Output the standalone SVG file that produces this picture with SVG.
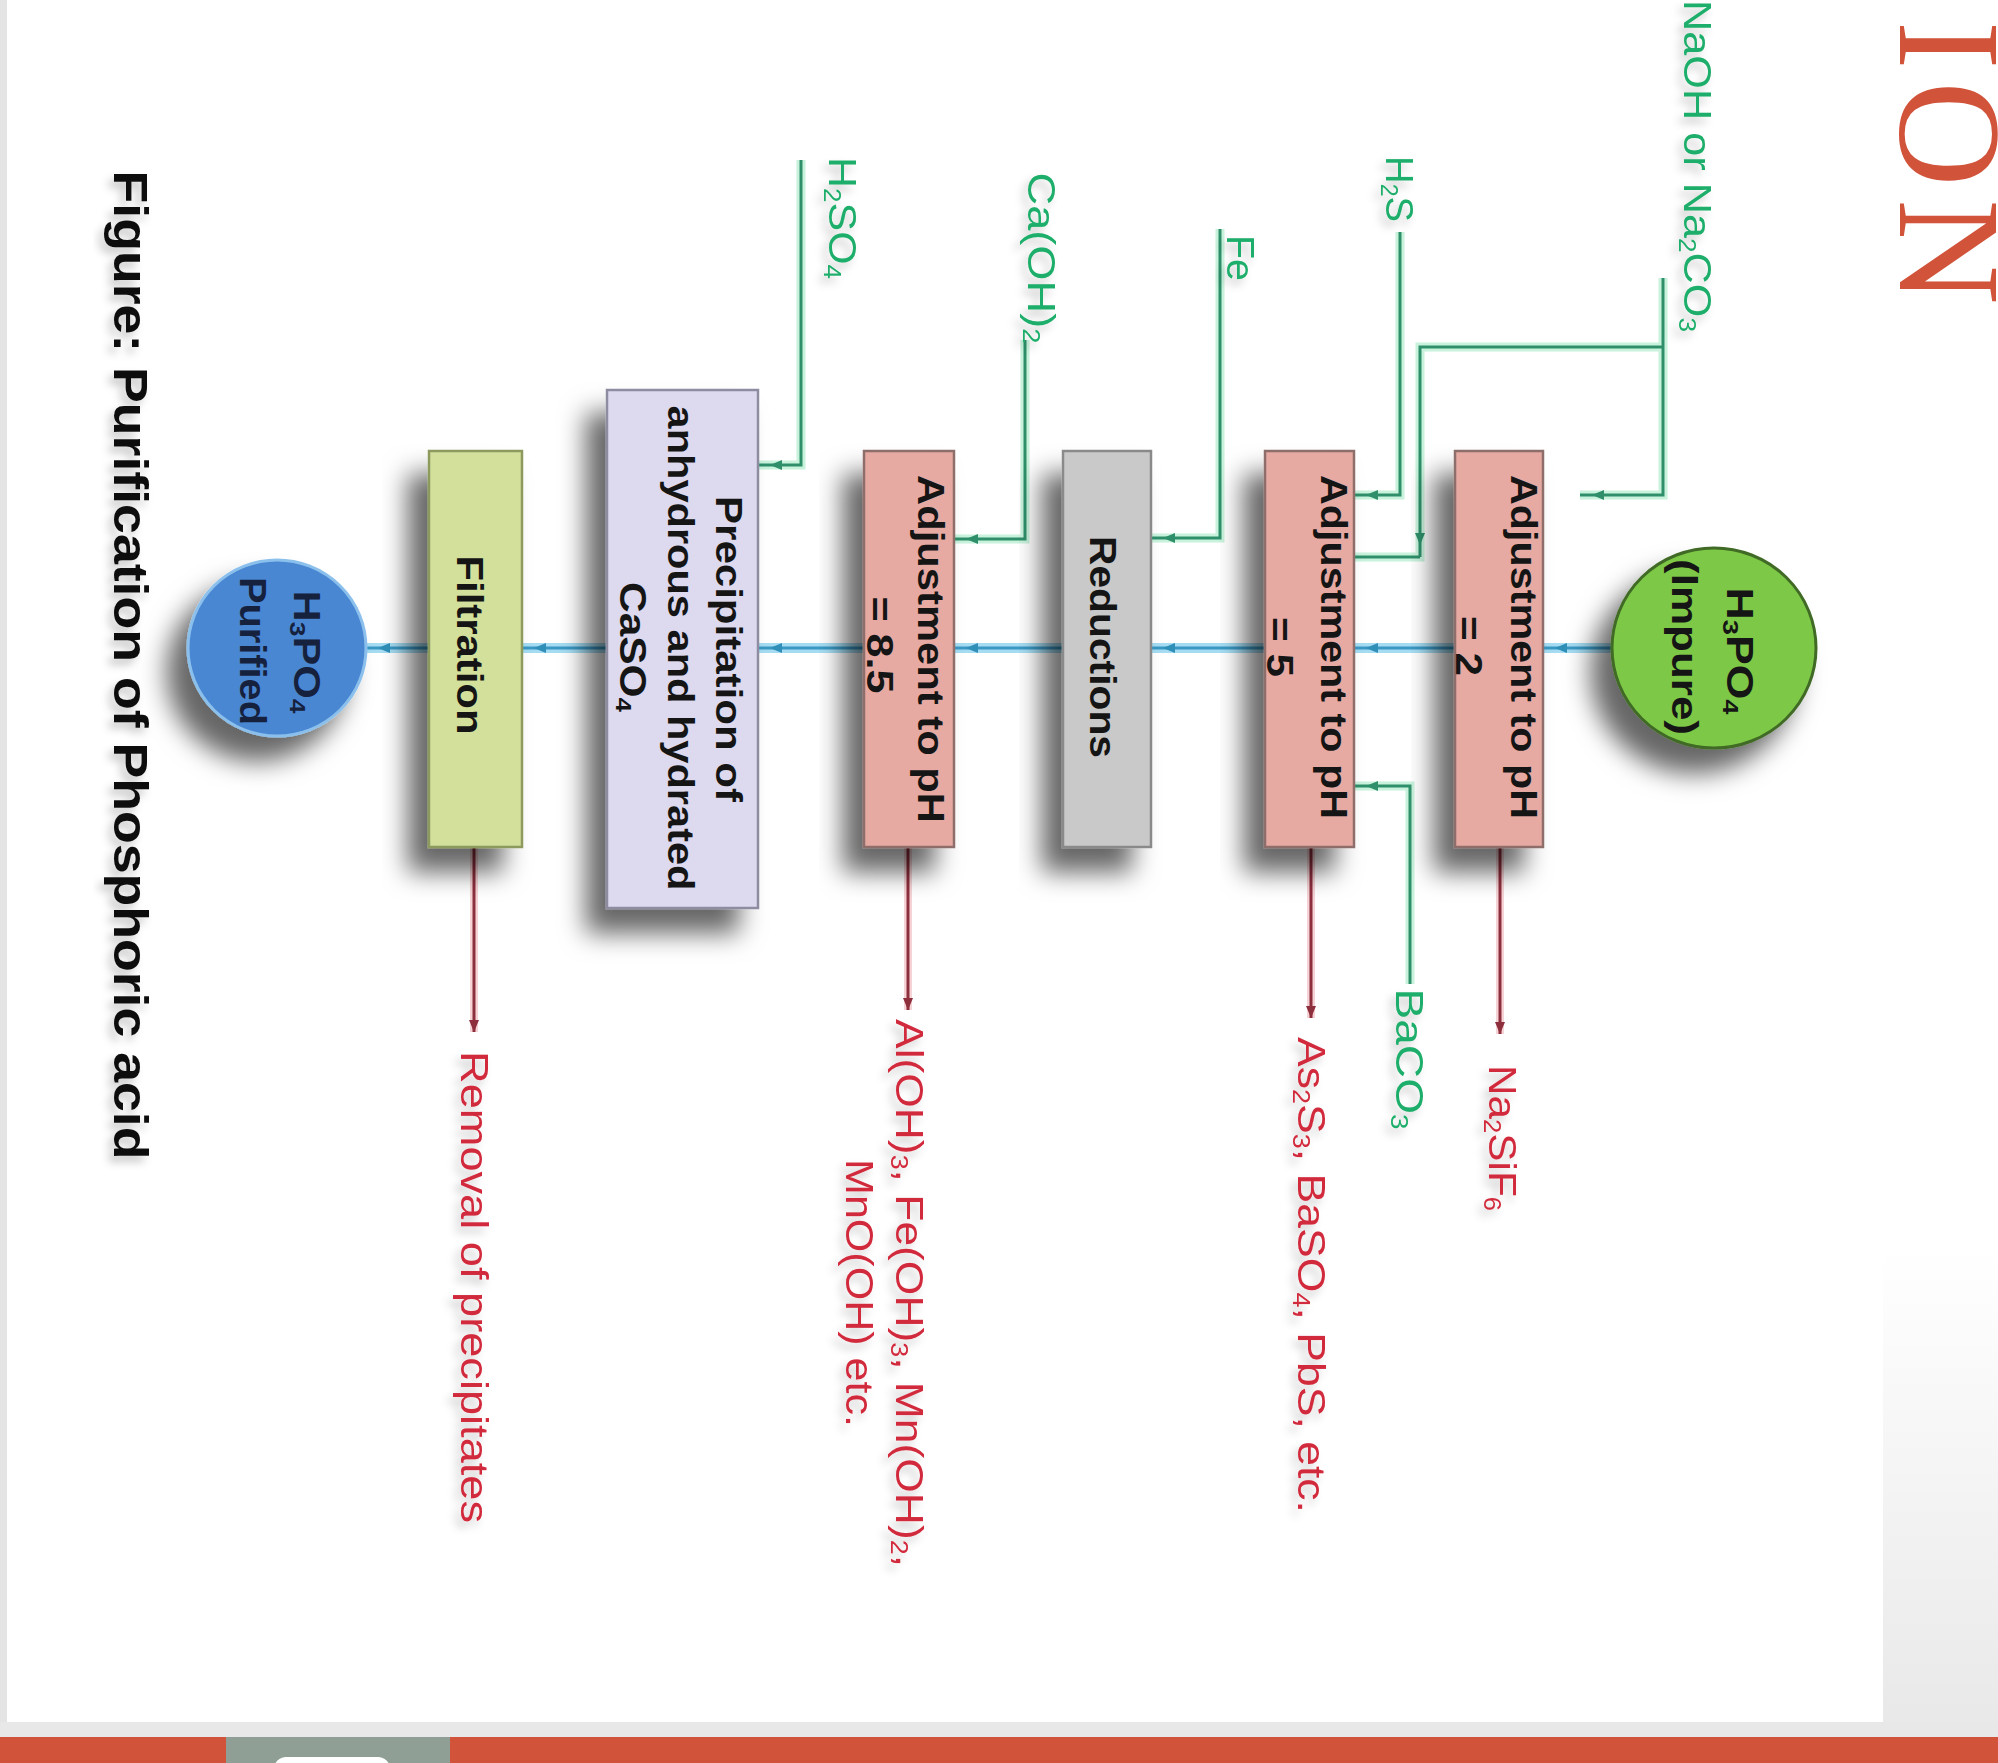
<svg xmlns="http://www.w3.org/2000/svg" width="1998" height="1763" viewBox="0 0 1998 1763">
<defs>
<style>
.bx{stroke-width:2.5}
.pink{fill:#e7aaa3;stroke:#8d6e6a}
.t{font-family:"Liberation Sans",Arial,sans-serif;font-weight:bold;font-size:36px;fill:#151515}
.cap{font-family:"Liberation Sans",Arial,sans-serif;font-weight:bold;font-size:48px;fill:#111}
.gl{font-family:"Liberation Sans",Arial,sans-serif;font-size:38px;fill:#1fae6a}
.rl{font-family:"Liberation Sans",Arial,sans-serif;font-size:38px;fill:#d22a3c}
.ion{font-family:"Liberation Serif","Times New Roman",serif;font-size:146px;fill:#d1533a}
.halo-b{fill:none;stroke:#a5dcf2;stroke-width:10}
.core-b{fill:none;stroke:#3a98c4;stroke-width:3}
.halo-g{fill:none;stroke:#c8f2dc;stroke-width:9}
.core-g{fill:none;stroke:#2e8f6a;stroke-width:3}
.halo-r{fill:none;stroke:#f5d3d6;stroke-width:8}
.core-r{fill:none;stroke:#8e2f3d;stroke-width:3}
</style>
<filter id="sh" x="-50%" y="-30%" width="200%" height="170%">
<feDropShadow dx="-20" dy="24" stdDeviation="13" flood-color="#000" flood-opacity="0.6"/>
</filter>
<filter id="tsh" x="-20%" y="-20%" width="140%" height="140%">
<feDropShadow dx="-5" dy="6" stdDeviation="4" flood-color="#000" flood-opacity="0.22"/>
</filter>
<linearGradient id="rg" x1="0" y1="0" x2="0" y2="1">
<stop offset="0" stop-color="#ffffff"/>
<stop offset="0.72" stop-color="#ffffff"/>
<stop offset="1" stop-color="#e8e8e8"/>
</linearGradient>
<marker id="aB" markerUnits="userSpaceOnUse" orient="auto" markerWidth="30" markerHeight="14" refX="24" refY="0" overflow="visible">
<path d="M0,-5 L12,0 L0,5 z" fill="#2f8fb8"/>
</marker>
<marker id="aG" markerUnits="userSpaceOnUse" orient="auto" markerWidth="30" markerHeight="14" refX="24" refY="0" overflow="visible">
<path d="M0,-5 L12,0 L0,5 z" fill="#2e8f6a"/>
</marker>
<marker id="aR" markerUnits="userSpaceOnUse" orient="auto" markerWidth="14" markerHeight="14" refX="12" refY="0" overflow="visible">
<path d="M0,-5 L12,0 L0,5 z" fill="#8e2f3d"/>
</marker>
</defs>

<!-- background / slide frame -->
<rect x="0" y="0" width="1998" height="1763" fill="#ffffff"/>
<rect x="0" y="0" width="7" height="1737" fill="#e4e4e4"/>
<rect x="1883" y="0" width="115" height="1737" fill="url(#rg)"/>
<rect x="0" y="1722" width="1998" height="15" fill="#e8e8e8"/>
<rect x="0" y="1737" width="1998" height="26" fill="#d1533a"/>
<rect x="226" y="1737" width="224" height="26" fill="#8f9f95"/>
<rect x="274" y="1757" width="116" height="24" rx="12" fill="#ffffff"/>

<!-- big title fragment -->
<g id="title-fragment">
<text class="ion" text-anchor="middle" transform="translate(1900,45) rotate(90)">I</text>
<text class="ion" text-anchor="middle" transform="translate(1900,134) rotate(90)">O</text>
<text class="ion" text-anchor="middle" transform="translate(1900,252) rotate(90)">N</text>
</g>

<!-- connectors -->
<g id="connectors">
<path class="halo-b" d="M1612,648 L366,648"/>
<path class="core-b" d="M1612,648 L1543,648" marker-end="url(#aB)"/>
<path class="core-b" d="M1455,648 L1354,648" marker-end="url(#aB)"/>
<path class="core-b" d="M1265,648 L1151,648" marker-end="url(#aB)"/>
<path class="core-b" d="M1063,648 L954,648" marker-end="url(#aB)"/>
<path class="core-b" d="M864,648 L758,648" marker-end="url(#aB)"/>
<path class="core-b" d="M607,648 L522,648" marker-end="url(#aB)"/>
<path class="core-b" d="M429,648 L366,648" marker-end="url(#aB)"/>

<path class="halo-g" d="M1663,278 L1663,495 L1580,495 M1663,347 L1420,347 L1420,557 L1354,557 M1400,232 L1400,495 L1354,495 M1220,229 L1220,538 L1151,538 M1025,340 L1025,539 L954,539 M801,160 L801,465 L758,465 M1410,984 L1410,786 L1354,786"/>
<path class="core-g" d="M1663,278 L1663,495 L1580,495" marker-end="url(#aG)"/>
<path class="core-g" d="M1663,347 L1420,347 L1420,557" marker-end="url(#aG)"/>
<path class="core-g" d="M1420,557 L1354,557"/>
<path class="core-g" d="M1400,232 L1400,495 L1354,495" marker-end="url(#aG)"/>
<path class="core-g" d="M1220,229 L1220,538 L1151,538" marker-end="url(#aG)"/>
<path class="core-g" d="M1025,340 L1025,539 L954,539" marker-end="url(#aG)"/>
<path class="core-g" d="M801,160 L801,465 L758,465" marker-end="url(#aG)"/>
<path class="core-g" d="M1410,984 L1410,786 L1354,786" marker-end="url(#aG)"/>

<path class="halo-r" d="M1500,847 L1500,1034 M1311,847 L1311,1018 M908,847 L908,1010 M474,847 L474,1032"/>
<path class="core-r" d="M1500,847 L1500,1034" marker-end="url(#aR)"/>
<path class="core-r" d="M1311,847 L1311,1018" marker-end="url(#aR)"/>
<path class="core-r" d="M908,847 L908,1010" marker-end="url(#aR)"/>
<path class="core-r" d="M474,847 L474,1032" marker-end="url(#aR)"/>
</g>

<!-- nodes -->
<g id="n-impure">
<ellipse cx="1714" cy="648" rx="102" ry="100" fill="#7ec846" stroke="#3f6b25" stroke-width="3" filter="url(#sh)"/>
<text class="t" text-anchor="middle" transform="translate(1740,651) rotate(90)" y="13" textLength="127" lengthAdjust="spacingAndGlyphs">H<tspan font-size="22" dy="4">3</tspan><tspan dy="-4">PO</tspan><tspan font-size="22" dy="4">4</tspan></text>
<text class="t" text-anchor="middle" transform="translate(1685,647) rotate(90)" y="13" textLength="176" lengthAdjust="spacingAndGlyphs">(Impure)</text>
</g>

<g id="n-ph2">
<rect class="bx pink" x="1455" y="451" width="88" height="396" filter="url(#sh)"/>
<text class="t" text-anchor="middle" transform="translate(1524,647) rotate(90)" y="13" textLength="344" lengthAdjust="spacingAndGlyphs">Adjustment to pH</text>
<text class="t" text-anchor="middle" transform="translate(1469,646) rotate(90)" y="13" textLength="60" lengthAdjust="spacingAndGlyphs">= 2</text>
</g>

<g id="n-ph5">
<rect class="bx pink" x="1265" y="451" width="89" height="396" filter="url(#sh)"/>
<text class="t" text-anchor="middle" transform="translate(1334,647) rotate(90)" y="13" textLength="344" lengthAdjust="spacingAndGlyphs">Adjustment to pH</text>
<text class="t" text-anchor="middle" transform="translate(1280,647) rotate(90)" y="13" textLength="60" lengthAdjust="spacingAndGlyphs">= 5</text>
</g>

<g id="n-reductions">
<rect class="bx" x="1063" y="451" width="88" height="396" fill="#c9c9c9" stroke="#8a8a8a" filter="url(#sh)"/>
<text class="t" text-anchor="middle" transform="translate(1103,647) rotate(90)" y="13" textLength="222" lengthAdjust="spacingAndGlyphs">Reductions</text>
</g>

<g id="n-ph85">
<rect class="bx pink" x="864" y="451" width="90" height="396" filter="url(#sh)"/>
<text class="t" text-anchor="middle" transform="translate(931,649) rotate(90)" y="13" textLength="348" lengthAdjust="spacingAndGlyphs">Adjustment to pH</text>
<text class="t" text-anchor="middle" transform="translate(880,645) rotate(90)" y="13" textLength="97" lengthAdjust="spacingAndGlyphs">= 8.5</text>
</g>

<g id="n-precip">
<rect class="bx" x="607" y="390" width="151" height="518" fill="#dddaef" stroke="#8e8ca0" filter="url(#sh)"/>
<text class="t" text-anchor="middle" transform="translate(729,649) rotate(90)" y="13" textLength="306" lengthAdjust="spacingAndGlyphs">Precipitation of</text>
<text class="t" text-anchor="middle" transform="translate(681,648) rotate(90)" y="13" textLength="485" lengthAdjust="spacingAndGlyphs">anhydrous and hydrated</text>
<text class="t" text-anchor="middle" transform="translate(633,647) rotate(90)" y="13" textLength="130" lengthAdjust="spacingAndGlyphs">CaSO<tspan font-size="22" dy="4">4</tspan></text>
</g>

<g id="n-filtration">
<rect class="bx" x="429" y="451" width="93" height="396" fill="#d2e09b" stroke="#8d9a5d" filter="url(#sh)"/>
<text class="t" text-anchor="middle" transform="translate(470,645) rotate(90)" y="13" textLength="179" lengthAdjust="spacingAndGlyphs">Filtration</text>
</g>

<g id="n-purified">
<ellipse cx="277" cy="648" rx="89" ry="88" fill="#4a87d3" stroke="#8cc0ec" stroke-width="3" filter="url(#sh)"/>
<text class="t" text-anchor="middle" style="fill:#16213e" transform="translate(307,652) rotate(90)" y="13" textLength="123" lengthAdjust="spacingAndGlyphs">H<tspan font-size="22" dy="4">3</tspan><tspan dy="-4">PO</tspan><tspan font-size="22" dy="4">4</tspan></text>
<text class="t" text-anchor="middle" style="fill:#16213e" transform="translate(253,651) rotate(90)" y="13" textLength="148" lengthAdjust="spacingAndGlyphs">Purified</text>
</g>

<!-- input labels -->
<g id="inputs" filter="url(#tsh)">
<text class="gl" text-anchor="middle" transform="translate(1697,166) rotate(90)" y="13" textLength="332" lengthAdjust="spacingAndGlyphs">NaOH or Na<tspan font-size="23" dy="5">2</tspan><tspan dy="-5">CO</tspan><tspan font-size="23" dy="5">3</tspan></text>
<text class="gl" text-anchor="middle" transform="translate(1399,189) rotate(90)" y="13" textLength="66" lengthAdjust="spacingAndGlyphs">H<tspan font-size="23" dy="5">2</tspan><tspan dy="-5">S</tspan></text>
<text class="gl" text-anchor="middle" transform="translate(1240,258) rotate(90)" y="13" textLength="46" lengthAdjust="spacingAndGlyphs">Fe</text>
<text class="gl" text-anchor="middle" transform="translate(1041,258) rotate(90)" y="13" textLength="171" lengthAdjust="spacingAndGlyphs">Ca(OH)<tspan font-size="23" dy="5">2</tspan></text>
<text class="gl" text-anchor="middle" transform="translate(842,218) rotate(90)" y="13" textLength="122" lengthAdjust="spacingAndGlyphs">H<tspan font-size="23" dy="5">2</tspan><tspan dy="-5">SO</tspan><tspan font-size="23" dy="5">4</tspan></text>
<text class="gl" text-anchor="middle" transform="translate(1409,1059) rotate(90)" y="13" textLength="141" lengthAdjust="spacingAndGlyphs">BaCO<tspan font-size="23" dy="5">3</tspan></text>
</g>

<!-- output labels -->
<g id="outputs" filter="url(#tsh)">
<text class="rl" text-anchor="middle" transform="translate(1502,1138) rotate(90)" y="13" textLength="146" lengthAdjust="spacingAndGlyphs">Na<tspan font-size="23" dy="5">2</tspan><tspan dy="-5">SiF</tspan><tspan font-size="23" dy="5">6</tspan></text>
<text class="rl" text-anchor="middle" transform="translate(1311,1275) rotate(90)" y="13" textLength="476" lengthAdjust="spacingAndGlyphs">As<tspan font-size="23" dy="5">2</tspan><tspan dy="-5">S</tspan><tspan font-size="23" dy="5">3</tspan><tspan dy="-5">, BaSO</tspan><tspan font-size="23" dy="5">4</tspan><tspan dy="-5">, PbS, etc.</tspan></text>
<text class="rl" text-anchor="middle" transform="translate(909,1293) rotate(90)" y="13" textLength="548" lengthAdjust="spacingAndGlyphs">Al(OH)<tspan font-size="23" dy="5">3</tspan><tspan dy="-5">, Fe(OH)</tspan><tspan font-size="23" dy="5">3</tspan><tspan dy="-5">, Mn(OH)</tspan><tspan font-size="23" dy="5">2</tspan><tspan dy="-5">,</tspan></text>
<text class="rl" text-anchor="middle" transform="translate(859,1293) rotate(90)" y="13" textLength="268" lengthAdjust="spacingAndGlyphs">MnO(OH) etc.</text>
<text class="rl" text-anchor="middle" transform="translate(474,1287) rotate(90)" y="13" textLength="472" lengthAdjust="spacingAndGlyphs">Removal of precipitates</text>
</g>

<g id="caption" filter="url(#tsh)">
<text class="cap" text-anchor="middle" transform="translate(131,665) rotate(90)" y="17" textLength="989" lengthAdjust="spacingAndGlyphs">Figure: Purification of Phosphoric acid</text>
</g>
</svg>
